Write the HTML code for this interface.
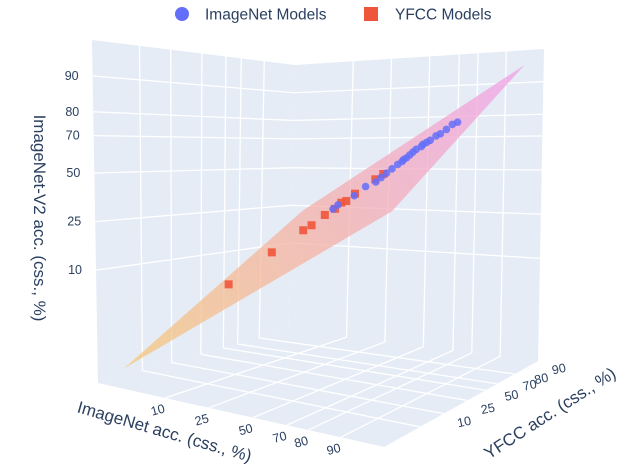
<!DOCTYPE html>
<html><head><meta charset="utf-8"><style>
html,body{margin:0;padding:0;background:#fff;}
svg{display:block;font-family:"Liberation Sans",sans-serif;}
</style></head><body>
<svg id="chart" width="623" height="474" viewBox="0 0 623 474">
<defs>
<linearGradient id="planeGrad" gradientUnits="userSpaceOnUse" x1="118" y1="368" x2="528" y2="62">
<stop offset="0" stop-color="rgb(245,200,120)"/>
<stop offset="0.5" stop-color="rgb(245,175,170)"/>
<stop offset="1" stop-color="rgb(240,160,235)"/>
</linearGradient>
</defs>
<g id="scene"></g>
<g id="legend">
<circle cx="182" cy="14" r="7" fill="#636efa"/>
<text x="205" y="19.5" font-size="15.5" fill="#2a3f5f">ImageNet Models</text>
<rect x="364" y="7" width="14" height="14" fill="#ef553b"/>
<text x="395" y="19.5" font-size="15.5" fill="#2a3f5f">YFCC Models</text>
</g>
<text x="0" y="0" font-size="17" fill="#2a3f5f" text-anchor="middle" transform="translate(34,218) rotate(90)">ImageNet-V2 acc. (css., %)</text>
<text x="0" y="0" font-size="17" fill="#2a3f5f" text-anchor="middle" transform="translate(163,437) rotate(16)">ImageNet acc. (css., %)</text>
<text x="0" y="0" font-size="17" fill="#2a3f5f" text-anchor="middle" transform="translate(553,418) rotate(-33)">YFCC acc. (css., %)</text>
</svg>
<script>
// ---- data ----
const tickVals = [10, 25, 50, 70, 80, 90];
const tickLabels = ["10", "25", "50", "70", "80", "90"];
const imagenetX = [45, 47, 53.5, 58, 64, 68, 71.5, 73, 75, 77.5, 79, 80, 81.5, 82.6, 84, 85.3, 86.4, 70, 72, 74, 76, 78, 62, 66];
const imagenetYfcc = [44, 46, 52.5, 57, 63, 67, 70.5, 72, 74, 76.5, 78, 79, 80.5, 81.6, 83, 84.3, 85.4, 69, 71, 73, 75, 77, 61, 65];
const imagenetV2 = [30, 32, 36.6, 41.5, 46.5, 51.5, 55.7, 57.8, 61, 64, 66.2, 67.3, 69.5, 70.6, 72.7, 75, 76, 54, 56.8, 59.4, 62.5, 65.2, 44, 49];
const yfccX = [13.1, 23, 33, 36, 41, 45, 47.5, 49.5, 53, 61, 64];
const yfccYfcc = [14, 24, 34, 37, 42, 46, 48.5, 50.5, 54, 62, 65];
const yfccV2 = [7.4, 14, 21, 22.9, 27.2, 30, 33, 33.8, 37.6, 45.5, 48.5];
const planeX = [3, 15, 95, 85];
const planeY = [3, 70, 95, 30];
const planeZ = [1.2, 27, 93, 31];

// ---- axes ----
const xLo = -3.87, xHi = 3.28, yLo = -3.87, yHi = 3.28, zLo = -4.75, zHi = 3.01;
function logit(v){ const p = v/100; return Math.log(p/(1-p)); }
function ux(v){ return (logit(v)-xLo)/(xHi-xLo); }
function uy(v){ return (logit(v)-yLo)/(yHi-yLo); }
function uz(v){ return (logit(v)-zLo)/(zHi-zLo); }
const C = {
  '000':[98,383], '100':[384,447], '110':[538,361], '010':[288,330],
  '001':[92,40], '101':[386,5], '111':[544,49], '011':[295,65]
};
function proj(a,b,c){
  let X=0,Y=0;
  for (const i of [0,1]) for (const j of [0,1]) for (const k of [0,1]) {
    const w=(i?a:1-a)*(j?b:1-b)*(k?c:1-c);
    const p=C[''+i+j+k]; X+=w*p[0]; Y+=w*p[1];
  }
  return [X,Y];
}
const NS='http://www.w3.org/2000/svg';
const scene=document.getElementById('scene');
function mk(tag, attrs, parent){
  const e=document.createElementNS(NS,tag);
  for (const k in attrs) e.setAttribute(k, attrs[k]);
  (parent||scene).appendChild(e); return e;
}
function pts(arr){ return arr.map(p=>p[0].toFixed(1)+','+p[1].toFixed(1)).join(' '); }

let el;
el = mk('polygon',{points:pts([proj(0,0,0),proj(1,0,0),proj(1,1,0),proj(0,1,0)]),fill:'#e5ecf6'});


el = mk('polygon',{points:pts([proj(0,0,0),proj(0,1,0),proj(0,1,1),proj(0,0,1)]),fill:'#e5ecf6'});


el = mk('polygon',{points:pts([proj(0,1,0),proj(1,1,0),proj(1,1,1),proj(0,1,1)]),fill:'#e5ecf6'});



function line(p,q,name){
  const l=mk('line',{x1:p[0],y1:p[1],x2:q[0],y2:q[1],stroke:'#fff','stroke-width':1.3});
  
  
}
tickVals.forEach(v=>{
  const a=ux(v), b=uy(v), c=uz(v);
  line(proj(a,0,0),proj(a,1,0),'x-gridline-floor');
  line(proj(a,1,0),proj(a,1,1),'x-gridline-wall');
  line(proj(0,b,0),proj(1,b,0),'y-gridline-floor');
  line(proj(0,b,0),proj(0,b,1),'y-gridline-wall');
  line(proj(0,0,c),proj(0,1,c),'z-gridline-left');
  line(proj(0,1,c),proj(1,1,c),'z-gridline-right');
});

tickVals.forEach((v,i)=>{
  let p=proj(0,0,uz(v));
  let t=mk('text',{x:p[0]-14,y:p[1]+4,'font-size':12.5,fill:'#2a3f5f','text-anchor':'end'});
  t.textContent=tickLabels[i];
  
  
  p=proj(ux(v),0,0);
  t=mk('text',{x:0,y:0,'font-size':12.5,fill:'#2a3f5f','text-anchor':'middle',transform:`translate(${(p[0]-6).toFixed(1)},${(p[1]+16).toFixed(1)}) rotate(-15)`});
  t.textContent=tickLabels[i];
  
  
  p=proj(1,uy(v),0);
  t=mk('text',{x:0,y:0,'font-size':12.5,fill:'#2a3f5f','text-anchor':'middle',transform:`translate(${(p[0]+45).toFixed(1)},${(p[1]-1).toFixed(1)}) rotate(-12)`});
  t.textContent=tickLabels[i];
  
  
});

const planePts = planeX.map((x,i)=>proj(ux(x),uy(planeY[i]),uz(planeZ[i])));
el = mk('polygon',{points:pts(planePts),fill:'url(#planeGrad)','fill-opacity':0.75});



yfccX.forEach((x,i)=>{
  const p=proj(ux(x),uy(yfccYfcc[i]),uz(yfccV2[i]));
  const r=mk('rect',{x:p[0]-4,y:p[1]-4,width:8,height:8,fill:'#ef553b','fill-opacity':0.9});
  
  
});
imagenetX.forEach((x,i)=>{
  const p=proj(ux(x),uy(imagenetYfcc[i]),uz(imagenetV2[i]));
  const c=mk('circle',{cx:p[0],cy:p[1],r:3.8,fill:'#636efa','fill-opacity':0.85});
  
  
});
</script>
</body></html>
